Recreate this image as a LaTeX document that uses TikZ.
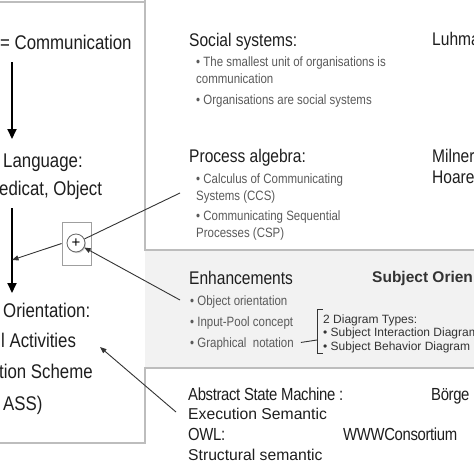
\documentclass[tikz,border=0pt]{standalone}
\usepackage{fontspec}
\setmainfont{Liberation Sans}
\newfontfamily\narrowsf[FakeStretch=0.85]{Liberation Sans}
\newfontfamily\tightsf[FakeStretch=0.85,LetterSpace=-2]{Liberation Sans}
\usepackage{xcolor}
\usepackage{tikz}
\usetikzlibrary{arrows.meta,shadows}
\definecolor{framegray}{HTML}{BDBDBD}
\definecolor{bandgray}{HTML}{F2F2F2}
\definecolor{itemgray}{HTML}{5A5A5A}
\definecolor{darktxt}{HTML}{1E1E1E}
\definecolor{linkgray}{HTML}{333333}

\begin{document}
\begin{tikzpicture}[x=1pt, y=-1pt,
   lbl/.style={anchor=base west, inner sep=0pt},
   big/.style={lbl, font=\narrowsf\fontsize{19.8}{24}\selectfont, text=darktxt},
   head/.style={lbl, font=\narrowsf\fontsize{18.3}{22}\selectfont, text=darktxt},
   item/.style={lbl, align=left, font=\narrowsf\fontsize{13.5}{16.5}\selectfont, text=itemgray},
   formal/.style={lbl, font=\tightsf\fontsize{17.5}{21}\selectfont, text=darktxt},
   sem/.style={lbl, font=\fontsize{15.7}{19}\selectfont, text=darktxt},
   small/.style={lbl, align=left, font=\fontsize{12}{13.5}\selectfont, text=linkgray},
   frame/.style={draw=framegray, line width=1.2pt},
   flow/.style={-{Triangle[length=10pt,width=9pt]}, line width=2pt, black},
   link/.style={line width=0.9pt, linkgray},
   linkarrow/.style={link, -{Triangle[length=6.5pt,width=5pt]}}]
  \useasboundingbox (0,0) rectangle (474,474);
  \fill[white] (0,0) rectangle (474,474);
  \fill[bandgray] (145,250) rectangle (480,368);
  \draw[frame] (-5,2) -- (145,2);
  \draw[frame] (145,-5) -- (145,250) -- (480,250);
  \draw[frame] (480,368) -- (145,368) -- (145,443) -- (-5,443);

  \node[big] (comm)   at (0,49)   {= Communication};
  \node[big] (lang)   at (3,167)  {Language:};
  \node[big] (pred)   at (-1,195) {edicat, Object};
  \node[big] (orient) at (3,317)  {Orientation:};
  \node[big] (activ)  at (1,347)  {l Activities};
  \node[big] (scheme) at (-1,378) {tion Scheme};
  \node[big] (pass)   at (3,410)  {ASS)};

  % multi-line nodes sit on the baseline of their last line
  \node[head] (soc)  at (189,46)  {Social systems:};
  \node[item] (soc1) at (196,83)  {• The smallest unit of organisations is\\communication};
  \node[item] (soc2) at (196,104) {• Organisations are social systems};
  \node[head] (proc) at (189,162) {Process algebra:};
  \node[item] (ccs)  at (196,200) {• Calculus of Communicating\\Systems (CCS)};
  \node[item] (csp)  at (196,237) {• Communicating Sequential\\Processes (CSP)};
  \node[head] (luhm) at (432,45)  {Luhma};
  \node[head] (miln) at (432,162) {Milner};
  \node[head] (hoar) at (432,183) {Hoare};

  \node[head] (enh)   at (189,284) {Enhancements};
  \node[item] (obj)   at (190,305) {• Object orientation};
  \node[item] (pool)  at (190,326) {• Input-Pool concept};
  \node[item] (graph) at (190,347) {• Graphical\ \ notation};
  \node[lbl, font=\bfseries\fontsize{15.5}{18}\selectfont, text=linkgray] (subj) at (372,282) {Subject Orien};
  \node[small] (types) at (323,350) {2 Diagram Types:\\• Subject Interaction Diagram\\• Subject Behavior Diagram};

  \node[formal] (asm)  at (188,400) {Abstract State Machine :};
  \node[sem]    (exec) at (188,419) {Execution Semantic};
  \node[formal] (owl)  at (188,440) {OWL:};
  \node[sem]    (stru) at (188,460) {Structural semantic};
  \node[formal] (borg) at (431,400) {Börge};
  \node[formal] (wwwc) at (343,440) {WWWConsortium};

  \node[draw=gray!75, fill=white, line width=0.8pt, minimum width=29pt, minimum height=43pt, inner sep=0pt] (plusbox) at (76.5,243.5) {};
  \node[circle, draw=gray!80!black, fill=white, line width=0.8pt, minimum size=18pt, inner sep=0pt,
        drop shadow={shadow xshift=1pt, shadow yshift=-1.2pt, opacity=0.35}, font=\fontsize{15}{15}\selectfont] (plus) at (76,243) {+};

  \coordinate (c1top) at (12,62);
  \coordinate (c1end) at (12,139);
  \coordinate (c2top) at (12,208);
  \coordinate (c2end) at (12,293);
  \coordinate (join)  at (12,260);
  \coordinate (procend) at (180,193);
  \coordinate (enhend)  at (180,300);
  \coordinate (asmend)  at (176,412);
  \coordinate (actend)  at (100,347);
  \coordinate (brk)     at (317,340);

  \draw[flow] (c1top) -- (c1end);
  \draw[flow] (c2top) -- (c2end);
  \draw[linkarrow] (plusbox.west) -- (join);
  \draw[link] (plus) -- (procend);
  \draw[linkarrow] (enhend) -- (plus);
  \draw[linkarrow] (asmend) -- (actend);
  \draw[link, shorten <=7pt] (graph.east) -- (brk);
  \draw[link] (322.5,309) -- (317,309) -- (317,353) -- (322.5,353);
\end{tikzpicture}
\end{document}
